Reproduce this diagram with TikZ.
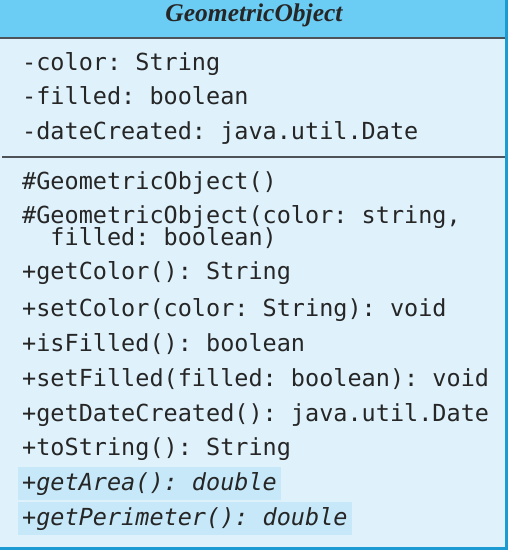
\documentclass[tikz,border=0pt]{standalone}
\usepackage{fontspec}
\setmainfont{Liberation Serif}
\setmonofont{DejaVu Sans Mono}
\usepackage{tikz}
\definecolor{headblue}{HTML}{6CCDF4}
\definecolor{bodyblue}{HTML}{DFF2FC}
\definecolor{edgeblue}{HTML}{1B9BD1}
\definecolor{rulegray}{HTML}{4D5358}
\definecolor{hilite}{HTML}{C6E8F8}
\tikzset{
  member/.style={anchor=base west, inner sep=0pt, text=black!85,
    font=\fontsize{23.5}{26}\selectfont\ttfamily},
  virtual/.style={member, fill=hilite, inner xsep=4pt, inner ysep=5pt,
    font=\fontsize{23.5}{26}\selectfont\ttfamily\itshape}
}

\begin{document}
\begin{tikzpicture}
  [x=1pt, y=-1pt]
    \useasboundingbox (0,0) rectangle (508,550);
    \fill[bodyblue] (0,0) rectangle (505,548);
    \fill[headblue] (0,0) rectangle (505,37);
    \draw[rulegray, line width=2pt] (0,38) -- (505,38);
    \draw[rulegray, line width=1.5pt] (2,157) -- (505,157);
    \draw[edgeblue, line width=3pt] (506,0) -- (506,548.5) -- (0,548.5);
    \node[anchor=base, inner sep=0pt, text=black!85,
      font=\fontsize{25.5}{28}\selectfont\bfseries\itshape]
      (title) at (254,21) {GeometricObject};
    \foreach \n/\y/\t in {a1/70/{-color: String},a2/104/{-filled: boolean},
                  a3/139/{-dateCreated: java.util.Date}}{
      \node[member] (\n) at (22,\y) {\t};}
    \foreach \n/\y/\t in {m1/189/{\#GeometricObject()},
                  m2/223/{\#GeometricObject(color: string,},
                  m3/245/{\ \ filled: boolean)},
                  m4/279/{+getColor(): String},
                  m5/316/{+setColor(color: String): void},
                  m6/351/{+isFilled(): boolean},
                  m7/386/{+setFilled(filled: boolean): void},
                  m8/421/{+getDateCreated(): java.util.Date},
                  m9/455/{+toString(): String}}{
      \node[member] (\n) at (22,\y) {\t};}
    \foreach \n/\y/\t in {m10/490/{+getArea(): double},
                  m11/525/{+getPerimeter(): double}}{
      \node[virtual] (\n) at (18,\y) {\t};}
  \end{tikzpicture}
\end{document}
